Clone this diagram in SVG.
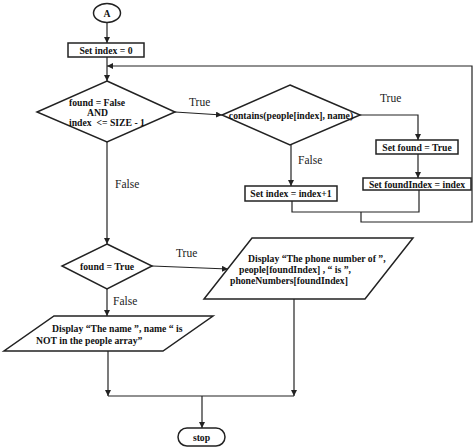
<svg xmlns="http://www.w3.org/2000/svg" width="474" height="448" viewBox="0 0 474 448">
<style>
.s{fill:#fff;stroke:#222;stroke-width:1.5}
.c{fill:none;stroke:#222;stroke-width:1.2}
.t{font-family:"Liberation Serif","Times New Roman",serif;font-weight:bold;font-size:9.7px;fill:#111}
.l{font-family:"Liberation Serif","Times New Roman",serif;font-size:11.5px;fill:#222}
</style>
<defs>
<marker id="ar" viewBox="0 0 6 6" refX="6" refY="3" markerWidth="6" markerHeight="6" markerUnits="userSpaceOnUse" orient="auto">
<path d="M0,0 L6,3 L0,6 z" fill="#222"/>
</marker>
</defs>
<rect width="474" height="448" fill="#fff"/>
<g id="connectors">
<line class="c" x1="107" y1="22.5" x2="107" y2="43" marker-end="url(#ar)"/>
<line class="c" x1="107" y1="57" x2="107" y2="81" marker-end="url(#ar)"/>
<line class="c" x1="175" y1="112" x2="222" y2="115" marker-end="url(#ar)"/>
<polyline class="c" points="360,115 418,115 418,140" marker-end="url(#ar)"/>
<line class="c" x1="418" y1="154" x2="418" y2="178" marker-end="url(#ar)"/>
<line class="c" x1="291" y1="145" x2="291" y2="186" marker-end="url(#ar)"/>
<polyline class="c" points="292,201 292,212 419,212 419,190"/>
<polyline class="c" points="361,212 361,222 472,222 472,66 107,66" marker-end="url(#ar)"/>
<line class="c" x1="107" y1="142" x2="107" y2="244" marker-end="url(#ar)"/>
<line class="c" x1="152" y1="266" x2="228" y2="269" marker-end="url(#ar)"/>
<line class="c" x1="107" y1="289" x2="107" y2="316" marker-end="url(#ar)"/>
<line class="c" x1="108" y1="351" x2="108" y2="396" marker-end="url(#ar)"/>
<line class="c" x1="294" y1="299" x2="294" y2="396" marker-end="url(#ar)"/>
<line class="c" x1="108" y1="396" x2="294" y2="396"/>
<line class="c" x1="202" y1="396" x2="202" y2="428" marker-end="url(#ar)"/>
<text class="l" x="189" y="106">True</text>
<text class="l" x="380" y="102">True</text>
<text class="l" x="298" y="164">False</text>
<text class="l" x="115" y="188">False</text>
<text class="l" x="176" y="257">True</text>
<text class="l" x="113" y="305">False</text>
</g>
<g id="nodeA">
<ellipse class="s" cx="107" cy="13" rx="13.5" ry="9.5"/>
<text class="t" x="107" y="16.5" text-anchor="middle">A</text>
</g>
<g id="setIndex0">
<rect class="s" x="68" y="43" width="76" height="14"/>
<text class="t" x="106" y="53.5" text-anchor="middle">Set index = 0</text>
</g>
<g id="loopCond">
<polygon class="s" points="107,81 175,112 107,142 37,112"/>
<text class="t" x="69" y="106">found = False</text>
<text class="t" x="87" y="116">AND</text>
<text class="t" x="69" y="126" xml:space="preserve" style="white-space:pre">index  &lt;= SIZE - 1</text>
</g>
<g id="containsCond">
<polygon class="s" points="290,85 360,115 290,145 222,115"/>
<text class="t" x="291" y="118.5" text-anchor="middle">contains(people[index], name)</text>
</g>
<g id="setFound">
<rect class="s" x="376" y="140" width="82" height="14"/>
<text class="t" x="417" y="150.5" text-anchor="middle">Set found = True</text>
</g>
<g id="setFoundIndex">
<rect class="s" x="363" y="178" width="108" height="12"/>
<text class="t" x="417" y="187.5" text-anchor="middle">Set foundIndex = index</text>
</g>
<g id="incIndex">
<rect class="s" x="245" y="186" width="92" height="15"/>
<text class="t" x="291" y="197" text-anchor="middle">Set index = index+1</text>
</g>
<g id="foundCond">
<polygon class="s" points="107,244 152,266 107,289 62,266"/>
<text class="t" x="107" y="269.5" text-anchor="middle">found = True</text>
</g>
<g id="displayFound">
<polygon class="s" points="252,238 413,238 365,299 204,299"/>
<text class="t" x="248" y="262">Display “The phone number of ”,</text>
<text class="t" x="239" y="273">people[foundIndex] , “ is ”,</text>
<text class="t" x="230" y="284">phoneNumbers[foundIndex]</text>
</g>
<g id="displayNotFound">
<polygon class="s" points="54,316 213,316 163,351 4,351"/>
<text class="t" x="52" y="332">Display “The name ”, name “ is</text>
<text class="t" x="36" y="344">NOT in the people array”</text>
</g>
<g id="stop">
<rect class="s" x="178" y="428" width="47" height="18" rx="9" ry="9"/>
<text class="t" x="201.5" y="440.5" text-anchor="middle">stop</text>
</g>
</svg>
